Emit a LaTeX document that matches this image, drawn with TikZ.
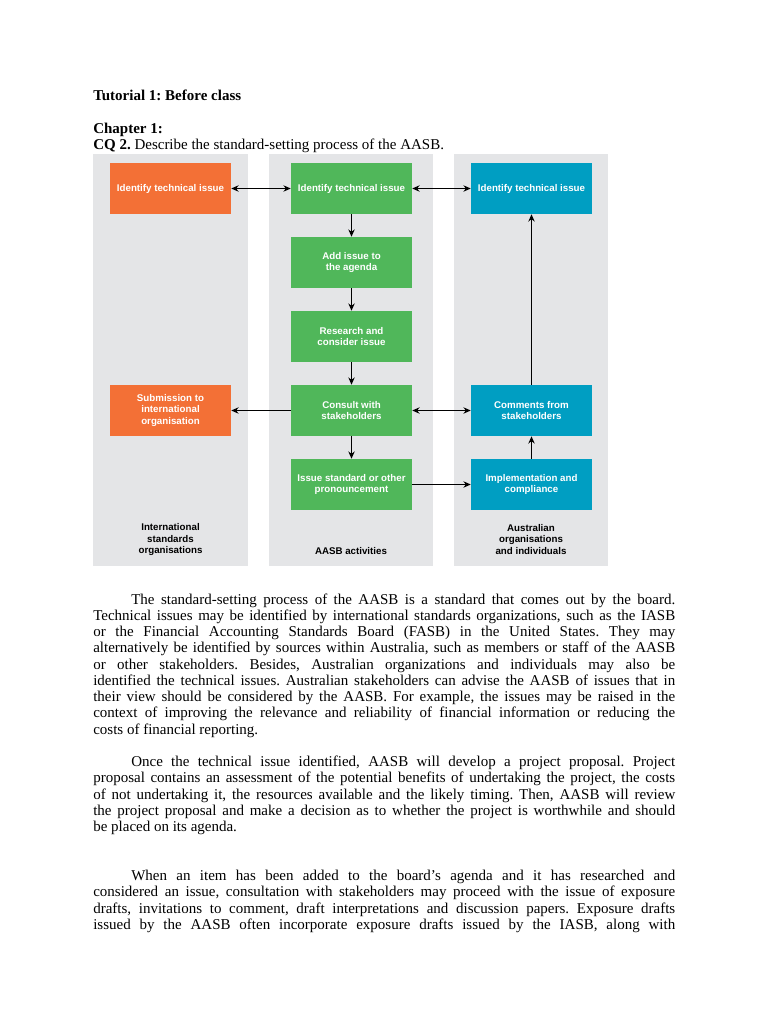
\documentclass[tikz,border=0pt]{standalone}
\usepackage{fontspec}
\setmainfont{Liberation Serif}
\newfontfamily\diagfont{Liberation Sans}
\usetikzlibrary{arrows.meta}
\definecolor{panelgrey}{RGB}{228,229,231}
\definecolor{aorange}{RGB}{243,112,54}
\definecolor{agreen}{RGB}{80,183,90}
\definecolor{ablue}{RGB}{0,158,194}
\tikzset{
  panel/.style={fill=panelgrey, draw=none},
  flowbox/.style={draw=none, minimum width=90.75pt, minimum height=38.25pt, inner sep=0pt,
    align=center, text=white, font=\diagfont\bfseries\fontsize{7.3}{8.8}\selectfont},
  obox/.style={flowbox, fill=aorange},
  gbox/.style={flowbox, fill=agreen},
  bbox/.style={flowbox, fill=ablue},
  collabel/.style={align=center, inner sep=0pt, text=black, font=\diagfont\bfseries\fontsize{7.3}{8.6}\selectfont},
  arr/.style={draw=black, line width=0.9pt, -{Stealth[length=5.5pt,width=4.8pt]}},
  dbl/.style={draw=black, line width=0.9pt, {Stealth[length=5.5pt,width=4.8pt]}-{Stealth[length=5.5pt,width=4.8pt]}},
  bodyline/.style={anchor=base west, inner sep=0pt, font=\fontsize{11.25}{13}\selectfont\frenchspacing},
  headline/.style={anchor=base west, inner sep=0pt, font=\fontsize{11.25}{13}\selectfont\frenchspacing}
}
\newcommand\fullline[3]{\node[bodyline] (#1) at (93,#2) {\makebox[436.5pt][s]{#3}};}
\newcommand\firstline[3]{\node[bodyline] (#1) at (131,#2) {\makebox[408pt][s]{#3}};}
\newcommand\lastline[3]{\node[bodyline] (#1) at (93,#2) {#3};}
\begin{document}
\frenchspacing
\begin{tikzpicture}[x=0.75pt,y=-0.75pt]
\useasboundingbox[fill=white] (0,0) rectangle (768,1024);
% headings
\node[headline] (h1) at (93,100.7) {\textbf{Tutorial 1: Before class}};
\node[headline] (h2) at (93,133.5) {\textbf{Chapter 1:}};
\node[headline] (h3) at (93,149) {\textbf{CQ 2.} Describe the standard-setting process of the AASB.};
% panels
\fill[panel] (93,154) rectangle (248,566);
\fill[panel] (269,154) rectangle (433,566);
\fill[panel] (454,154) rectangle (608,566);
% boxes
\node[obox] (o1) at (170.5,188.5) {Identify technical issue};
\node[gbox] (g1) at (351.5,188.5) {Identify technical issue};
\node[bbox] (b1) at (531.5,188.5) {Identify technical issue};
\node[gbox] (g2) at (351.5,262.5) {Add issue to\\the agenda};
\node[gbox] (g3) at (351.5,336.5) {Research and\\consider issue};
\node[obox] (o2) at (170.5,410.5) {Submission to\\international\\organisation};
\node[gbox] (g4) at (351.5,410.5) {Consult with\\stakeholders};
\node[bbox] (b2) at (531.5,410.5) {Comments from\\stakeholders};
\node[gbox] (g5) at (351.5,484.5) {Issue standard or other\\pronouncement};
\node[bbox] (b3) at (531.5,484.5) {Implementation and\\compliance};
% column labels
\node[collabel] (l1) at (170.5,539.5) {International\\standards\\organisations};
\node[collabel] (l2) at (351,551) {AASB activities};
\node[collabel] (l3) at (531,539.5) {Australian\\organisations\\and individuals};
% connectors
\draw[dbl] (o1) -- (g1);
\draw[dbl] (g1) -- (b1);
\draw[arr] (g1) -- (g2);
\draw[arr] (g2) -- (g3);
\draw[arr] (g3) -- (g4);
\draw[arr] (g4) -- (g5);
\draw[arr] (g4) -- (o2);
\draw[dbl] (g4) -- (b2);
\draw[arr] (g5) -- (b3);
\draw[arr] (b3) -- (b2);
\draw[arr] (b2) -- (b1);
% paragraph 1
\firstline{p1a}{604}{The standard-setting process of the AASB is a standard that comes out by the board.}
\fullline{p1b}{620.25}{Technical issues may be identified by international standards organizations, such as the IASB}
\fullline{p1c}{636.5}{or the Financial Accounting Standards Board (FASB) in the United States. They may}
\fullline{p1d}{652.75}{alternatively be identified by sources within Australia, such as members or staff of the AASB}
\fullline{p1e}{669}{or other stakeholders. Besides, Australian organizations and individuals may also be}
\fullline{p1f}{685.25}{identified the technical issues. Australian stakeholders can advise the AASB of issues that in}
\fullline{p1g}{701.5}{their view should be considered by the AASB. For example, the issues may be raised in the}
\fullline{p1h}{717.75}{context of improving the relevance and reliability of financial information or reducing the}
\lastline{p1i}{734}{costs of financial reporting.}
% paragraph 2
\firstline{p2a}{766.5}{Once the technical issue identified, AASB will develop a project proposal. Project}
\fullline{p2b}{782.75}{proposal contains an assessment of the potential benefits of undertaking the project, the costs}
\fullline{p2c}{799}{of not undertaking it, the resources available and the likely timing. Then, AASB will review}
\fullline{p2d}{815.25}{the project proposal and make a decision as to whether the project is worthwhile and should}
\lastline{p2e}{831.5}{be placed on its agenda.}
% paragraph 3
\firstline{p3a}{880.5}{When an item has been added to the board’s agenda and it has researched and}
\fullline{p3b}{896.75}{considered an issue, consultation with stakeholders may proceed with the issue of exposure}
\fullline{p3c}{913}{drafts, invitations to comment, draft interpretations and discussion papers. Exposure drafts}
\fullline{p3d}{929.25}{issued by the AASB often incorporate exposure drafts issued by the IASB, along with}
\end{tikzpicture}
\end{document}
